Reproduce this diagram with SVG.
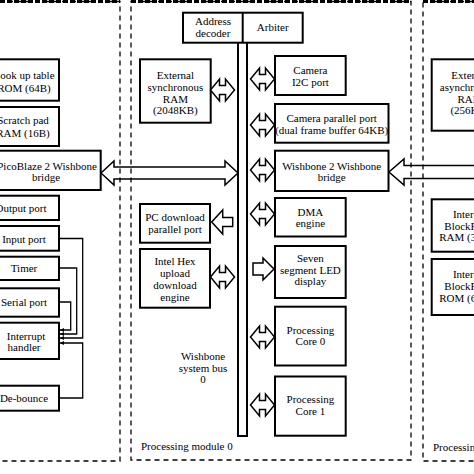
<svg xmlns="http://www.w3.org/2000/svg" width="474" height="474" viewBox="0 0 474 474">
<style>
.box{fill:#fff;stroke:#000;stroke-width:2}
.panel{fill:none;stroke:#000;stroke-width:1.3;stroke-dasharray:5,4}
.ptop{fill:none;stroke:#000;stroke-width:3;stroke-dasharray:5,2}
.t{font-family:"Liberation Serif","Times New Roman",serif;font-size:11px;fill:#000;text-anchor:middle}
.ts{font-family:"Liberation Serif","Times New Roman",serif;font-size:11px;fill:#000}
.arr{fill:#fff;stroke:#000;stroke-width:1.5;stroke-linejoin:miter}
.arrn{fill:none;stroke:#000;stroke-width:1.5}
.wire{fill:none;stroke:#000;stroke-width:1.3}
</style>
<defs>
<path id="dbl" d="M0,0 L9,-11 L9,-4.5 L15,-4.5 L15,-11 L24,0 L15,11 L15,4.5 L9,4.5 L9,11 Z"/>
<marker id="ah" markerWidth="4" markerHeight="4" refX="4" refY="2" orient="auto" markerUnits="userSpaceOnUse">
<path d="M0,0 L4,2 L0,4 Z" fill="#000"/>
</marker>
</defs>
<rect width="474" height="474" fill="#fff"/>

<g id="panels">
<rect class="panel" x="-10" y="1.5" width="130" height="459.5"/>
<line class="ptop" x1="0" y1="1.5" x2="120" y2="1.5"/>
<rect class="panel" x="131" y="1.5" width="280" height="458.5"/>
<line class="ptop" x1="131" y1="1.5" x2="411" y2="1.5"/>
<rect class="panel" x="423" y="1.5" width="70" height="459.5"/>
<line class="ptop" x1="423" y1="1.5" x2="474" y2="1.5"/>
<text class="ts" x="141" y="449.5">Processing module 0</text>
<text class="ts" x="433" y="451">Processing module 1</text>
</g>

<g id="lut"><rect class="box" x="-14" y="59.3" width="73" height="41.4"/><text class="t" x="24" y="79">Look up table</text><text class="t" x="24" y="92">ROM (64B)</text></g>
<g id="scratch"><rect class="box" x="-14" y="107" width="73" height="39"/><text class="t" x="23" y="124">Scratch pad</text><text class="t" x="23" y="137">RAM (16B)</text></g>
<g id="picobridge"><rect class="box" x="-14" y="150.7" width="114.7" height="39.3"/><text class="t" x="47" y="169.5">PicoBlaze 2 Wishbone</text><text class="t" x="46" y="181">bridge</text></g>
<g id="outport"><rect class="box" x="-14" y="195.7" width="73" height="24.3"/><text class="t" x="21" y="212">Output port</text></g>
<g id="inport"><rect class="box" x="-14" y="226" width="73" height="24.7"/><text class="t" x="24" y="242.5">Input port</text></g>
<g id="timer"><rect class="box" x="-14" y="256.7" width="73" height="23.3"/><text class="t" x="24" y="272">Timer</text></g>
<g id="serial"><rect class="box" x="-14" y="288.3" width="73" height="28.4"/><text class="t" x="24" y="306">Serial port</text></g>
<g id="irq"><rect class="box" x="-14" y="322.7" width="73" height="36.3"/><text class="t" x="26" y="339.5">Interrupt</text><text class="t" x="24" y="351">handler</text></g>
<g id="debounce"><rect class="box" x="-14" y="385.7" width="73" height="25"/><text class="t" x="24" y="402">De-bounce</text></g>

<g id="header"><rect class="box" x="183" y="12.7" width="119.7" height="30"/><line x1="242.7" y1="12.7" x2="242.7" y2="42.7" stroke="#000" stroke-width="2"/><text class="t" x="213" y="25">Address</text><text class="t" x="213" y="37">decoder</text><text class="t" x="272.7" y="30.5">Arbiter</text></g>
<g id="bus"><path d="M238,42.7 V436 H247 V42.7" fill="none" stroke="#000" stroke-width="2"/><text class="t" x="203" y="360">Wishbone</text><text class="t" x="203" y="371.5">system bus</text><text class="t" x="203" y="383">0</text></g>
<g id="extram"><rect class="box" x="140" y="59.3" width="70.7" height="63.4"/><text class="t" x="175.4" y="79">External</text><text class="t" x="175.4" y="91">synchronous</text><text class="t" x="175.4" y="102.5">RAM</text><text class="t" x="175.4" y="114">(2048KB)</text></g>
<g id="pcdl"><rect class="box" x="140" y="204" width="70" height="38.7"/><text class="t" x="175" y="221">PC download</text><text class="t" x="175" y="233">parallel port</text></g>
<g id="intelhex"><rect class="box" x="140" y="249" width="70" height="58.7"/><text class="t" x="175" y="265">Intel Hex</text><text class="t" x="175" y="277">upload</text><text class="t" x="175" y="289">download</text><text class="t" x="175" y="300.5">engine</text></g>
<g id="cami2c"><rect class="box" x="275" y="56" width="70.7" height="39"/><text class="t" x="310.4" y="74">Camera</text><text class="t" x="310.4" y="85.5">I2C port</text></g>
<g id="campar"><rect class="box" x="275" y="104" width="113.5" height="38.7"/><text class="t" x="331.7" y="122">Camera parallel port</text><text class="t" x="331.7" y="133.5">(dual frame buffer 64KB)</text></g>
<g id="wbbridge"><rect class="box" x="275" y="150.7" width="113.5" height="40.3"/><text class="t" x="331.7" y="169.5">Wishbone 2 Wishbone</text><text class="t" x="331.7" y="181">bridge</text></g>
<g id="dma"><rect class="box" x="275" y="198" width="70.7" height="38.5"/><text class="t" x="310.4" y="215.5">DMA</text><text class="t" x="310.4" y="227">engine</text></g>
<g id="sevenseg"><rect class="box" x="275" y="246" width="70.7" height="52"/><text class="t" x="310.4" y="261.5">Seven</text><text class="t" x="310.4" y="274">segment LED</text><text class="t" x="310.4" y="285">display</text></g>
<g id="core0"><rect class="box" x="275" y="306.7" width="70.7" height="58.8"/><text class="t" x="310.4" y="334">Processing</text><text class="t" x="310.4" y="345">Core 0</text></g>
<g id="core1"><rect class="box" x="275" y="376.5" width="70.7" height="59.2"/><text class="t" x="310.4" y="403">Processing</text><text class="t" x="310.4" y="414.5">Core 1</text></g>

<g id="asyncram"><rect class="box" x="431.7" y="59.3" width="78" height="71.4"/><text class="t" x="470" y="79">External</text><text class="t" x="470" y="91">asynchronous</text><text class="t" x="470" y="102.5">RAM</text><text class="t" x="470" y="114">(256KB)</text></g>
<g id="bram"><rect class="box" x="431.7" y="199.3" width="78" height="52.4"/><text class="t" x="470" y="218">Internal</text><text class="t" x="470" y="229.5">BlockRAM</text><text class="t" x="470" y="241">RAM (32KB)</text></g>
<g id="brom"><rect class="box" x="431.7" y="259" width="78" height="56"/><text class="t" x="470" y="278">Internal</text><text class="t" x="470" y="290">BlockRAM</text><text class="t" x="470" y="301.5">ROM (64KB)</text></g>

<g id="connectors">
<use href="#dbl" class="arr" transform="translate(210.5,90)"/>
<use href="#dbl" class="arr" transform="translate(210.5,277)"/>
<path class="arr" d="M211.7,222 L222.7,210 L222.7,217.5 L232.7,217.5 L232.7,226.5 L222.7,226.5 L222.7,234 Z"/>
<use href="#dbl" class="arr" transform="translate(250.5,79)"/>
<use href="#dbl" class="arr" transform="translate(250.5,125)"/>
<use href="#dbl" class="arr" transform="translate(250.5,170)"/>
<use href="#dbl" class="arr" transform="translate(250.5,214)"/>
<path class="arr" d="M253,263 L263,263 L263,258 L274,269 L263,280 L263,275 L253,275 Z"/>
<use href="#dbl" class="arr" transform="translate(250.5,337)"/>
<use href="#dbl" class="arr" transform="translate(250.5,405)"/>
<path class="arrn" d="M101,173 L114,161 L114,167 L225,167 L225,161 L238,173 L225,185 L225,179 L114,179 L114,185 Z"/>
<path class="arrn" d="M480,165.5 L404,165.5 L404,159 L389,172 L404,185 L404,178.5 L480,178.5"/>
<path class="wire" d="M59,302 H70.7 V330 H60" marker-end="url(#ah)"/>
<path class="wire" d="M59,268 H76.7 V334 H60" marker-end="url(#ah)"/>
<path class="wire" d="M59,238.5 H82.7 V338 H60" marker-end="url(#ah)"/>
<path class="wire" d="M59,398 H82.7 V343 H60" marker-end="url(#ah)"/>
</g>
</svg>
